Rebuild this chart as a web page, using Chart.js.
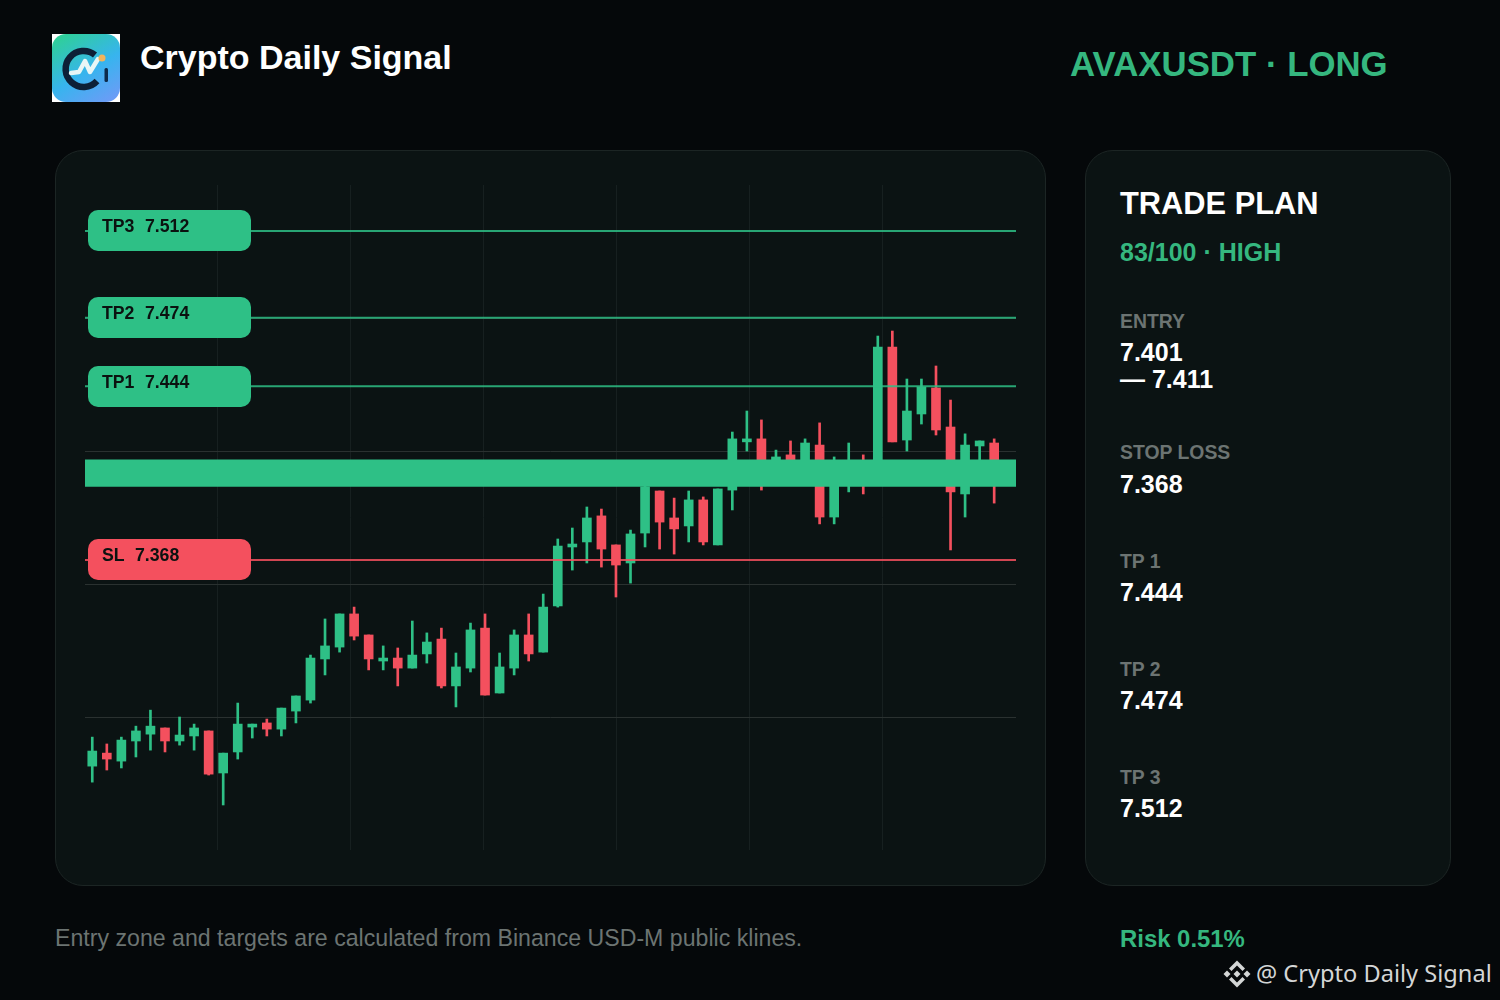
<!DOCTYPE html>
<html lang="en">
<head>
    <meta charset="UTF-8">
    <title>Crypto Daily Signal - AVAXUSDT</title>
    <style>
        body {
            margin: 0;
            width: 1500px;
            height: 1000px;
            overflow: hidden;
            position: relative;
            background: #05080a;
            font-family: "Liberation Sans", Arial, sans-serif;
            color: #fff;
        }
        .abs { position: absolute; white-space: nowrap; line-height: 1; }
        .card {
            position: absolute;
            box-sizing: border-box;
            top: 150px;
            height: 736px;
            background: #0b1313;
            border: 1px solid #1c2524;
            border-radius: 28px;
        }
        .bold { font-weight: bold; }
        .green { color: #35b77f; }
        .caption { font-size: 19.4px; font-weight: bold; color: #6c7472; left: 1120px; }
        .value { font-size: 25px; font-weight: bold; color: #fff; left: 1120px; }
        #chartBox { position: absolute; left: 85px; top: 185px; width: 931px; height: 665px; }
    </style>
</head>
<body>
    <svg class="abs" style="left:52px;top:34px" width="68" height="68" viewBox="0 0 68 68">
        <defs>
            <linearGradient id="logoFill" x1="0.2" y1="0" x2="0.8" y2="1">
                <stop offset="0" stop-color="#2fcf9a"/>
                <stop offset="0.55" stop-color="#37b4ee"/>
                <stop offset="1" stop-color="#6a9df6"/>
            </linearGradient>
        </defs>
        <rect width="68" height="68" fill="#fff"/>
        <rect width="68" height="68" rx="14" fill="url(#logoFill)"/>
        <path d="M43 21 A 18 18 0 1 0 45 47" fill="none" stroke="#0d1f36" stroke-width="6.5"/>
        <rect x="52.5" y="34" width="3.5" height="14" rx="1.5" fill="#0d2a4a"/>
        <polyline points="19,39 27,38 33,27 38,38 46,25" fill="none" stroke="#e8f6f6" stroke-width="4.5" stroke-linejoin="round" stroke-linecap="round"/>
        <circle cx="50" cy="24" r="3.5" fill="#f2b45c"/>
    </svg>
    <div class="abs bold" style="left:140px;top:40px;font-size:34px">Crypto Daily Signal</div>
    <div class="abs bold green" style="left:1070px;top:47px;font-size:34.8px">AVAXUSDT · LONG</div>

    <div class="card" style="left:55px;width:991px"></div>
    <div class="card" style="left:1085px;width:366px"></div>

    <div id="chartBox"><canvas id="signalChart" width="931" height="665"></canvas></div>

    <div class="abs bold" style="left:1120px;top:189px;font-size:30.8px">TRADE PLAN</div>
    <div class="abs bold green" style="left:1120px;top:240px;font-size:25px">83/100 · HIGH</div>

    <div class="abs caption" style="top:312px">ENTRY</div>
    <div class="abs value" style="top:340px">7.401</div>
    <div class="abs value" style="top:367px">— 7.411</div>
    <div class="abs caption" style="top:443px">STOP LOSS</div>
    <div class="abs value" style="top:472px">7.368</div>
    <div class="abs caption" style="top:552px">TP 1</div>
    <div class="abs value" style="top:580px">7.444</div>
    <div class="abs caption" style="top:660px">TP 2</div>
    <div class="abs value" style="top:688px">7.474</div>
    <div class="abs caption" style="top:768px">TP 3</div>
    <div class="abs value" style="top:796px">7.512</div>

    <div class="abs" style="left:55px;top:927px;font-size:23.15px;color:#6c7472">Entry zone and targets are calculated from Binance USD-M public klines.</div>
    <div class="abs bold green" style="left:1120px;top:927px;font-size:23.9px">Risk 0.51%</div>

    <svg class="abs" style="left:1223px;top:960px" width="28" height="28" viewBox="0 0 28 28" fill="#d4d6d6">
        <polygon points="14,10.5 17.5,14 14,17.5 10.5,14"/>
        <polygon points="4,10.5 7.5,14 4,17.5 0.5,14"/>
        <polygon points="24,10.5 27.5,14 24,17.5 20.5,14"/>
        <polygon points="14,0.5 22,8.5 19.5,11 14,5.5 8.5,11 6,8.5"/>
        <polygon points="14,27.5 22,19.5 19.5,17 14,22.5 8.5,17 6,19.5"/>
    </svg>
    <div class="abs" style="left:1256px;top:962px;font-family:'Noto Sans',sans-serif;font-size:23.6px;color:#d4d6d6">@ Crypto Daily Signal</div>

    <script src="https://cdn.jsdelivr.net/npm/chart.js"></script>
    <script>
        // candle prices (last category is left empty on purpose)
        const labels = [];
        for (let n = 1; n <= 64; n++) labels.push(String(n));

        const opens = [7.2778, 7.2835, 7.2800, 7.2888, 7.2918, 7.2945, 7.2888, 7.2910, 7.2932, 7.2748,
            7.2840, 7.2949, 7.2967, 7.2940, 7.3019, 7.3067, 7.3247, 7.3299, 7.3444, 7.3352,
            7.3238, 7.3251, 7.3207, 7.3269, 7.3334, 7.3129, 7.3207, 7.3382, 7.3098, 7.3207,
            7.3352, 7.3277, 7.3479, 7.3737, 7.3759, 7.3873, 7.3746, 7.3667, 7.3798, 7.3982,
            7.3864, 7.3829, 7.3943, 7.3746, 7.3986, 7.4197, 7.4210, 7.4074, 7.4140, 7.4074,
            7.4183, 7.3868, 7.4052, 7.4096, 7.4052, 7.4612, 7.4205, 7.4319, 7.4433, 7.4262,
            7.3969, 7.4179, 7.4192];
        const closes = [7.2844, 7.2809, 7.2892, 7.2932, 7.2953, 7.2888, 7.2914, 7.2945, 7.2743, 7.2835,
            7.2962, 7.2962, 7.2940, 7.3032, 7.3085, 7.3251, 7.3304, 7.3444, 7.3347, 7.3247,
            7.3251, 7.3207, 7.3264, 7.3321, 7.3129, 7.3212, 7.3374, 7.3089, 7.3212, 7.3352,
            7.3269, 7.3474, 7.3741, 7.3750, 7.3864, 7.3728, 7.3658, 7.3794, 7.4000, 7.3846,
            7.3816, 7.3943, 7.3759, 7.3991, 7.4210, 7.4210, 7.4105, 7.4131, 7.4074, 7.4192,
            7.3868, 7.4074, 7.4096, 7.4052, 7.4612, 7.4197, 7.4332, 7.4437, 7.4249, 7.3978,
            7.4183, 7.4201, 7.4074];
        const highs = [7.2905, 7.2875, 7.2905, 7.2953, 7.3023, 7.2945, 7.2993, 7.2962, 7.2932, 7.2835,
            7.3054, 7.2962, 7.2984, 7.3032, 7.3085, 7.3264, 7.3422, 7.3444, 7.3474, 7.3352,
            7.3304, 7.3295, 7.3413, 7.3361, 7.3382, 7.3273, 7.3404, 7.3444, 7.3273, 7.3374,
            7.3444, 7.3531, 7.3772, 7.3820, 7.3912, 7.3903, 7.3746, 7.3811, 7.4030, 7.3982,
            7.3951, 7.3982, 7.3956, 7.3991, 7.4240, 7.4332, 7.4293, 7.4161, 7.4201, 7.4210,
            7.4280, 7.4131, 7.4192, 7.4140, 7.4660, 7.4682, 7.4472, 7.4472, 7.4529, 7.4380,
            7.4232, 7.4201, 7.4210];
        const lows = [7.2708, 7.2761, 7.2770, 7.2818, 7.2848, 7.2840, 7.2870, 7.2848, 7.2739, 7.2608,
            7.2809, 7.2901, 7.2910, 7.2910, 7.2967, 7.3054, 7.3177, 7.3277, 7.3330, 7.3199,
            7.3199, 7.3129, 7.3207, 7.3229, 7.3120, 7.3037, 7.3190, 7.3089, 7.3098, 7.3177,
            7.3238, 7.3277, 7.3474, 7.3636, 7.3667, 7.3649, 7.3518, 7.3579, 7.3737, 7.3728,
            7.3706, 7.3759, 7.3746, 7.3746, 7.3899, 7.4157, 7.3986, 7.4052, 7.4052, 7.4052,
            7.3838, 7.3838, 7.3978, 7.3969, 7.4039, 7.4197, 7.4157, 7.4275, 7.4227, 7.3724,
            7.3868, 7.4096, 7.3929];

        // trade levels
        const levelNames = ['TP3', 'TP2', 'TP1', 'SL'];
        const levelPrices = [7.512, 7.474, 7.444, 7.368];
        const entryLow = 7.401;
        const entryHigh = 7.411;

        // grid and axis limits
        const priceTicks = [7.2991, 7.3573, 7.4155, 7.4737];
        const timeTicks = [8.61, 17.75, 26.89, 36.03, 45.17, 54.31];
        const priceRange = [7.2411, 7.5321];
        const timeRange = [-0.5, 63.5];

        const green = '#2ec086';
        const red = '#f4505e';

        const candleColors = opens.map((o, i) => closes[i] >= o ? green : red);
        const bodies = opens.map((o, i) => [o, closes[i]]);
        const wicks = lows.map((l, i) => [l, highs[i]]);

        function spanLine(price, color, width) {
            return {
                type: 'line',
                xAxisID: 'xGrid',
                data: timeRange.map(t => ({ x: t, y: price })),
                borderColor: color,
                borderWidth: width,
                pointRadius: 0,
                order: 1
            };
        }

        const levelLines = levelNames.map((name, i) =>
            spanLine(levelPrices[i], name === 'SL' ? 'rgba(244,80,94,0.85)' : 'rgba(46,192,134,0.85)', 2));

        const entryTop = spanLine(entryHigh, green, 4.5);
        entryTop.fill = { target: { value: entryLow }, above: green, below: green };
        const entryBottom = spanLine(entryLow, green, 4.5);

        // the name/price pills sit on the left end of each level line
        const levelPills = {
            id: 'levelPills',
            afterDatasetsDraw(chart) {
                const c = chart.ctx;
                const yScale = chart.scales.y;
                levelNames.forEach((name, i) => {
                    const y = Math.round(yScale.getPixelForValue(levelPrices[i]) + 0.3);
                    c.save();
                    c.fillStyle = name === 'SL' ? red : green;
                    c.beginPath();
                    c.roundRect(3, y - 21, 163, 41, 10);
                    c.fill();
                    c.fillStyle = '#0b1210';
                    c.font = 'bold 17.7px "Liberation Sans"';
                    c.textBaseline = 'middle';
                    c.fillText(name, 17, y - 4);
                    c.fillText(levelPrices[i].toFixed(3), name === 'SL' ? 50 : 60, y - 4);
                    c.restore();
                });
            }
        };

        new Chart(document.getElementById('signalChart'), {
            type: 'bar',
            data: {
                labels: labels,
                datasets: [
                    ...levelLines,
                    entryTop,
                    entryBottom,
                    { data: bodies, backgroundColor: candleColors, barThickness: 9, grouped: false, order: 2 },
                    { data: wicks, backgroundColor: candleColors, barThickness: 2, grouped: false, order: 3 }
                ]
            },
            options: {
                responsive: false,
                animation: false,
                layout: { padding: 0 },
                plugins: { legend: { display: false }, tooltip: { enabled: false } },
                scales: {
                    x: {
                        display: true,
                        afterFit: axis => { axis.height = 0; },
                        grid: { display: false },
                        border: { display: false },
                        ticks: { display: false }
                    },
                    xGrid: {
                        type: 'linear',
                        position: 'bottom',
                        offset: false,
                        min: timeRange[0],
                        max: timeRange[1],
                        afterFit: axis => { axis.height = 0; },
                        afterBuildTicks: axis => { axis.ticks = timeTicks.map(v => ({ value: v })); },
                        grid: { color: '#172020', drawTicks: false, offset: false },
                        border: { display: false },
                        ticks: { display: false }
                    },
                    y: {
                        min: priceRange[0],
                        max: priceRange[1],
                        afterFit: axis => { axis.width = 0; },
                        afterBuildTicks: axis => { axis.ticks = priceTicks.map(v => ({ value: v })); },
                        grid: { color: '#2a3130', drawTicks: false },
                        border: { display: false },
                        ticks: { display: false }
                    }
                }
            },
            plugins: [levelPills]
        });
    </script>
</body>
</html>
